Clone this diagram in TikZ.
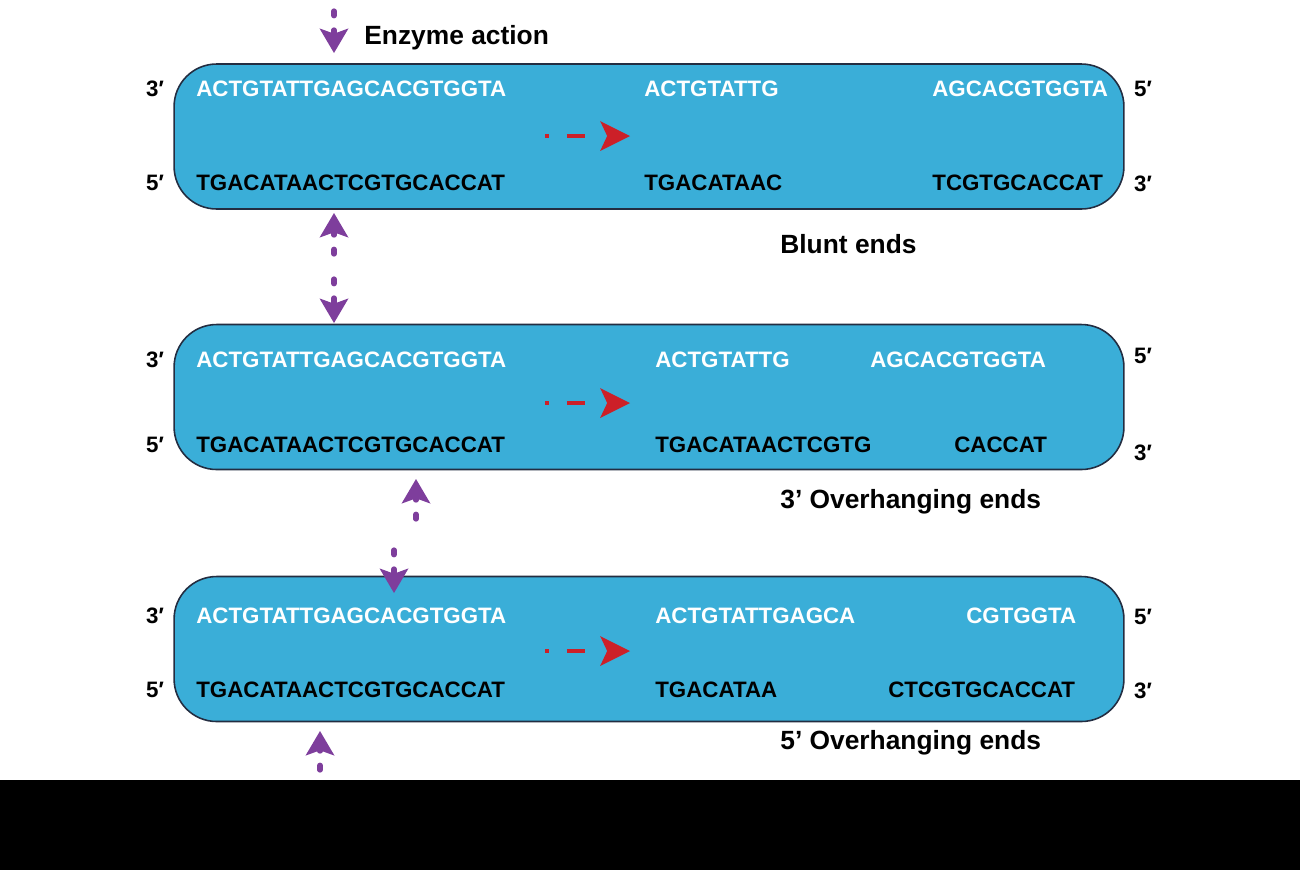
\documentclass[tikz,border=0pt]{standalone}
\usepackage{fontspec}
\setmainfont{Liberation Sans}
\usetikzlibrary{arrows.meta, positioning}
\definecolor{dnablue}{RGB}{58,174,216}
\definecolor{boxline}{RGB}{35,45,65}
\definecolor{enzpurple}{RGB}{126,62,156}
\definecolor{cutred}{RGB}{204,32,40}
\newcommand{\seqfont}{\fontsize{12.7}{15}\selectfont\bfseries}
\newcommand{\labfont}{\fontsize{15}{18}\selectfont\bfseries}
\tikzset{
  dnabox/.style={draw=boxline, line width=0.9pt, fill=dnablue, rounded corners=0.85cm,
    minimum width=19cm, minimum height=2.9cm, inner sep=0},
  upseq/.style={anchor=base west, inner sep=0, text=white, font=\seqfont},
  loseq/.style={anchor=base west, inner sep=0, text=black, font=\seqfont},
  endlab/.style={anchor=base, inner sep=0, font=\seqfont},
  steplab/.style={anchor=base west, inner sep=0, font=\labfont},
  enzarrow/.style={draw=enzpurple, line width=3pt, line cap=round,
    dash pattern=on 2.7pt off 8.1pt,
    -{Stealth[length=14pt, width=16.5pt, inset=3pt, line width=0pt, fill=enzpurple]}},
  cutarrow/.style={draw=cutred, line width=1.8pt,
    dash pattern=on 2.3pt off 10.2pt on 10.2pt off 40pt,
    -{Stealth[length=17pt, width=17pt, inset=4pt, line width=0pt, fill=cutred]}}
}
\begin{document}
\begin{tikzpicture}[x=0.02cm, y=-0.02cm]
  \useasboundingbox (0,0) rectangle (1300,870);
  % Footer band
  \fill[black] (0,780) rectangle (1300,870);

  % Boxes, strand ends and uncut sequence
  \foreach \n/\yc/\ya/\yb/\yr/\ys/\yt in {1/136.5/96/190/136/96/191, 2/397/367/452/403/363/460, 3/649/623/697/651/624/698} {
    \node[dnabox] (box\n) at (649,\yc) {};
    \node[endlab] (lt\n) at (155,\ya) {3′};
    \node[endlab] (lb\n) at (155,\yb) {5′};
    \node[endlab] (rt\n) at (1143,\ys) {5′};
    \node[endlab] (rb\n) at (1143,\yt) {3′};
    \node[upseq] (top\n) at (196,\ya) {ACTGTATTGAGCACGTGGTA};
    \node[loseq] (bot\n) at (196,\yb) {TGACATAACTCGTGCACCAT};
    \coordinate (cs\n) at (545,\yr);
    \coordinate (ce\n) at (630,\yr);
    \draw[cutarrow] (cs\n) -- (ce\n);
  }

  % Blunt ends
  \node[upseq] (topa1) at (644,96) {ACTGTATTG};
  \node[upseq] (topb1) at (932,96) {AGCACGTGGTA};
  \node[loseq] (bota1) at (644,190) {TGACATAAC};
  \node[loseq] (botb1) at (932,190) {TCGTGCACCAT};
  % 3' overhang
  \node[upseq] (topa2) at (655,367) {ACTGTATTG};
  \node[upseq] (topb2) at (870,367) {AGCACGTGGTA};
  \node[loseq] (bota2) at (655,452) {TGACATAACTCGTG};
  \node[loseq] (botb2) at (954,452) {CACCAT};
  % 5' overhang
  \node[upseq] (topa3) at (655,623) {ACTGTATTGAGCA};
  \node[upseq] (topb3) at (966,623) {CGTGGTA};
  \node[loseq] (bota3) at (655,697) {TGACATAA};
  \node[loseq] (botb3) at (888,697) {CTCGTGCACCAT};

  % Labels
  \node[steplab] (enz) at (364,44.5) {Enzyme action};
  \node[steplab] (blunt) at (780,253.5) {Blunt ends};
  \node[steplab] (over3) at (780,508.5) {3’ Overhanging ends};
  \node[steplab] (over5) at (780,749.5) {5’ Overhanging ends};

  % Enzyme arrows
  \coordinate (e0) at (334,11);  \coordinate (e1) at (334,53);
  \coordinate (e2) at (334,254); \coordinate (e3) at (334,213);
  \coordinate (e4) at (334,279); \coordinate (e5) at (334,323);
  \coordinate (e6) at (416,519); \coordinate (e7) at (416,479);
  \coordinate (e8) at (394,550); \coordinate (e9) at (394,593);
  \coordinate (e10) at (320,770); \coordinate (e11) at (320,731);
  \draw[enzarrow] (e0) -- (e1);
  \draw[enzarrow] (e2) -- (e3);
  \draw[enzarrow] (e4) -- (e5);
  \draw[enzarrow] (e6) -- (e7);
  \draw[enzarrow] (e8) -- (e9);
  \draw[enzarrow] (e10) -- (e11);
\end{tikzpicture}
\end{document}
